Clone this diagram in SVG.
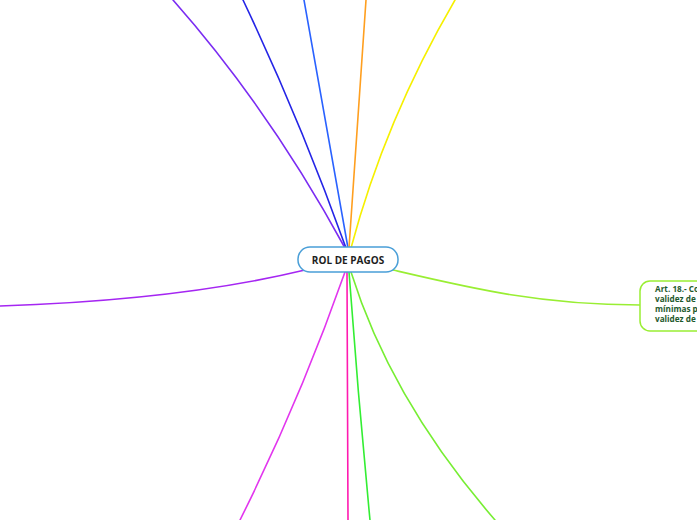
<svg xmlns="http://www.w3.org/2000/svg" width="697" height="520" viewBox="0 0 697 520">
<style>
.c{fill:none;stroke-width:1.6;stroke-linecap:round}
.t{font-family:"Open Sans","DejaVu Sans",sans-serif;font-weight:bold}
</style>
<rect width="697" height="520" fill="#ffffff"/>
<g id="connectors">
<path class="c" stroke="#7b2cf2" d="M345,248 Q270,110 173,0"/>
<path class="c" stroke="#2424e6" d="M346,248 Q300,120 243,0"/>
<path class="c" stroke="#2a62ff" d="M348,248 Q326,124 304,0"/>
<path class="c" stroke="#ff9f1f" d="M349,248 Q357,124 366,0"/>
<path class="c" stroke="#f6f000" d="M351,248 Q385,120 455,0"/>
<path class="c" stroke="#a526f2" d="M305,270 Q180,300 0,306"/>
<path class="c" stroke="#99ee33" d="M393,270 C470,288 540,305 640,305"/>
<path class="c" stroke="#e236ee" d="M345,272 Q300,400 240,520"/>
<path class="c" stroke="#ff1ab0" d="M347,272 L348,520"/>
<path class="c" stroke="#33ee33" d="M349,272 Q358,396 370,520"/>
<path class="c" stroke="#77ee33" d="M351,272 Q391,400 495,520"/>
</g>
<g id="root">
<rect x="298" y="247" width="100" height="25" rx="12" fill="#ffffff" stroke="#4a9fd8" stroke-width="1.5"/>
<text class="t" x="348" y="264" font-size="10" fill="#1e1e1e" text-anchor="middle">ROL DE PAGOS</text>
</g>
<g id="art18">
<rect x="640" y="281" width="80" height="50" rx="10" fill="#ffffff" stroke="#99ee33" stroke-width="1.5"/>
<text class="t" font-size="8.2" fill="#1f5a2e">
<tspan x="655" y="292">Art. 18.- Co</tspan>
<tspan x="655" y="302">validez de l</tspan>
<tspan x="655" y="312">mínimas p</tspan>
<tspan x="655" y="322">validez de l</tspan>
</text>
</g>
</svg>
